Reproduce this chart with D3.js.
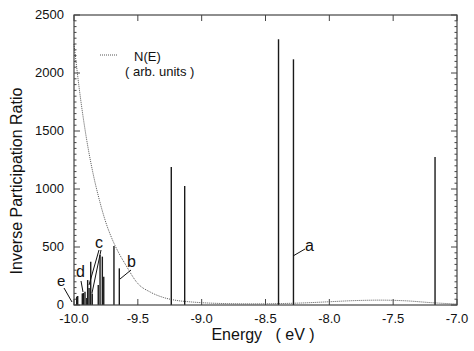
<!DOCTYPE html>
<html>
<head>
    <script src="https://d3js.org/d3.v7.min.js"></script>
    <style>
        body { margin: 0; background: #fff; }
        text { font-family: "Liberation Sans", Arial, Helvetica, sans-serif; fill: #111; }
    </style>
</head>
<body>
    <div id="chart"></div>
    <script>
        // states: energy (eV) and inverse participation ratio
        var stateEnergy = [-9.979, -9.971, -9.935, -9.927, -9.914, -9.900, -9.893, -9.882, -9.869, -9.857,
                           -9.810, -9.796, -9.778, -9.767, -9.687, -9.645, -9.238, -9.133, -8.398, -8.281, -7.172];
        var stateIPR = [72, 78, 100, 104, 115, 60, 215, 146, 373, 100,
                        172, 431, 417, 244, 508, 316, 1190, 1026, 2290, 2118, 1276];

        // density of states, arbitrary units (dotted curve)
        var dosEnergy = [-10, -9.95, -9.9, -9.85, -9.8, -9.75, -9.7, -9.65, -9.6, -9.5, -9.4, -9.3, -9.2,
                         -9.1, -9.0, -8.8, -8.6, -8.4, -8.2, -8.0, -7.8, -7.6, -7.4, -7.2, -7.0];
        var dosValue = [2250, 1790, 1420, 1130, 900, 710, 565, 450, 355, 185, 110, 65, 40,
                        28, 20, 12, 10, 12, 18, 28, 38, 42, 36, 20, 8];

        var xTicks = [-10.0, -9.5, -9.0, -8.5, -8.0, -7.5, -7.0];
        var yTicks = [0, 500, 1000, 1500, 2000, 2500];

        // labelled states
        var labels = ["a", "b", "c", "d", "e"];

        var W = 474, H = 351;
        var m = { left: 74, right: 17, top: 15, bottom: 46 };

        var svg = d3.select("#chart").append("svg")
            .attr("width", W)
            .attr("height", H);

        var x = d3.scaleLinear().domain([-10, -7]).range([m.left, W - m.right]);
        var y = d3.scaleLinear().domain([0, 2500]).range([H - m.bottom, m.top]);

        var x0 = x.range()[0], x1 = x.range()[1], y0 = y.range()[0], y1 = y.range()[1];

        // minor + major ticks, pointing inward on all four sides
        var g = svg.append("g").attr("stroke", "#444").attr("stroke-width", 1);
        d3.range(0, 2501, 50).forEach(function (v) {
            var len = v % 500 === 0 ? 6 : 2.5;
            g.append("line").attr("x1", x0).attr("x2", x0 + len).attr("y1", y(v)).attr("y2", y(v));
            g.append("line").attr("x1", x1).attr("x2", x1 - len).attr("y1", y(v)).attr("y2", y(v));
        });
        xTicks.forEach(function (v) {
            g.append("line").attr("x1", x(v)).attr("x2", x(v)).attr("y1", y0).attr("y2", y0 - 6);
            g.append("line").attr("x1", x(v)).attr("x2", x(v)).attr("y1", y1).attr("y2", y1 + 6);
        });

        // dotted N(E) curve
        var dos = dosEnergy.map(function (e, i) { return [e, dosValue[i]]; });
        svg.append("path")
            .datum(dos)
            .attr("fill", "none")
            .attr("stroke", "#555")
            .attr("stroke-width", 1)
            .attr("stroke-dasharray", "1,1")
            .attr("d", d3.line()
                .x(function (d) { return x(d[0]); })
                .y(function (d) { return y(d[1]); })
                .curve(d3.curveMonotoneX));

        // IPR sticks
        svg.selectAll(".stick")
            .data(stateEnergy)
            .enter()
            .append("line")
            .attr("class", "stick")
            .attr("x1", function (d) { return x(d); })
            .attr("x2", function (d) { return x(d); })
            .attr("y1", y(0))
            .attr("y2", function (d, i) { return y(stateIPR[i]); })
            .attr("stroke", "#1a1a1a")
            .attr("stroke-width", 1.4);

        // frame
        svg.append("rect")
            .attr("x", x0).attr("y", y1)
            .attr("width", x1 - x0).attr("height", y0 - y1)
            .attr("fill", "none")
            .attr("stroke", "#444")
            .attr("stroke-width", 1.2);

        // tick labels
        svg.selectAll(".ylab")
            .data(yTicks)
            .enter()
            .append("text")
            .attr("x", x0 - 10)
            .attr("y", function (d) { return y(d) + 4; })
            .attr("text-anchor", "end")
            .style("font-size", "13px")
            .text(function (d) { return d; });

        svg.selectAll(".xlab")
            .data(xTicks)
            .enter()
            .append("text")
            .attr("x", function (d) { return x(d); })
            .attr("y", y0 + 18)
            .attr("text-anchor", "middle")
            .style("font-size", "13px")
            .text(function (d) { return d.toFixed(1); });

        // axis titles
        svg.append("text")
            .attr("x", 263)
            .attr("y", 340)
            .attr("text-anchor", "middle")
            .style("font-size", "16px")
            .attr("xml:space", "preserve")
            .text("Energy   ( eV )");

        svg.append("text")
            .attr("transform", "translate(22,181) rotate(-90)")
            .attr("text-anchor", "middle")
            .style("font-size", "16px")
            .text("Inverse Participation Ratio");

        // legend
        svg.append("line")
            .attr("x1", 100).attr("x2", 118)
            .attr("y1", 55).attr("y2", 55)
            .attr("stroke", "#555")
            .attr("stroke-dasharray", "1,1");
        svg.append("text").attr("x", 134).attr("y", 61).style("font-size", "13px").text("N(E)");
        svg.append("text").attr("x", 125).attr("y", 76).style("font-size", "13px")
            .attr("xml:space", "preserve").text("( arb. units )");

        // letter labels with leader lines
        var labelPos = {
            a: { tx: 305, ty: 251, lines: [[293, 256, 305, 249]] },
            b: { tx: 127, ty: 267, lines: [[120, 279, 131, 270]] },
            c: { tx: 95, ty: 248, lines: [[99, 250, 89, 285], [101, 250, 92, 293]] },
            d: { tx: 76, ty: 277, lines: [[81, 281, 83, 292]] },
            e: { tx: 57, ty: 286, lines: [[64, 288, 72, 302]] }
        };
        labels.forEach(function (k) {
            var p = labelPos[k];
            svg.append("text").attr("x", p.tx).attr("y", p.ty)
                .style("font-size", k === "e" ? "15px" : "16px").text(k);
            p.lines.forEach(function (l) {
                svg.append("line")
                    .attr("x1", l[0]).attr("y1", l[1]).attr("x2", l[2]).attr("y2", l[3])
                    .attr("stroke", "#111").attr("stroke-width", 1);
            });
        });
    </script>
</body>
</html>
